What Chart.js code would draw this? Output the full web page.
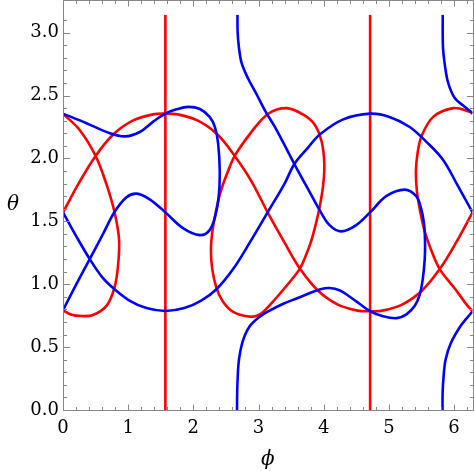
<!DOCTYPE html>
<html><head><meta charset="utf-8">
<script src="https://cdn.jsdelivr.net/npm/chart.js@4/dist/chart.umd.min.js"></script>
<style>html,body{margin:0;padding:0;background:#fff;}#wrap{width:474px;height:471px;position:relative;}</style>
</head><body><div id="wrap"><canvas id="c" width="474" height="471"></canvas></div>
<script>
const PHI_MAX = 2 * Math.PI;
const THETA_MAX = Math.PI;
const xTickValues = [0, 1, 2, 3, 4, 5, 6];
const yTickValues = [0, 0.5, 1, 1.5, 2, 2.5, 3];
const xTitle = 'ϕ';
const yTitle = 'θ';

// ---- red curves (φ, θ) ----
const redVertical1 = [[1.5708, 0], [1.5708, 3.1416]];
const redVertical2 = [[4.7124, 0], [4.7124, 3.1416]];
const redWave = [[0,1.571],[0.256,1.815],[0.50,2.02],[0.77,2.19],[1.07,2.30],[1.38,2.35],[1.571,2.356],[1.76,2.35],[2.07,2.30],[2.37,2.19],[2.635,2.02],[2.89,1.82],[3.14,1.571],[3.40,1.33],[3.64,1.12],[3.91,0.95],[4.21,0.84],[4.52,0.79],[4.712,0.785],[4.90,0.79],[5.21,0.84],[5.51,0.95],[5.78,1.12],[6.03,1.33],[6.283,1.571]];
const redLoopMid = [[2.51,1.87],[2.635,2.02],[2.89,2.21],[3.15,2.355],[3.43,2.40],[3.68,2.35],[3.86,2.27],[3.97,2.13],[4.01,1.95],[3.99,1.78],[3.94,1.62],[3.88,1.48],[3.80,1.33],[3.72,1.22],[3.63,1.12],[3.45,1.00],[3.20,0.85],[3.02,0.76],[2.865,0.742],[2.61,0.78],[2.455,0.86],[2.355,0.97],[2.29,1.12],[2.27,1.27],[2.29,1.41],[2.34,1.56],[2.41,1.72],[2.51,1.87],[2.635,2.02],[2.89,2.21]];
const redLoopLeft = [[0,2.355],[0.256,2.226],[0.50,2.02],[0.67,1.79],[0.79,1.574],[0.86,1.357],[0.845,1.15],[0.79,0.973],[0.67,0.83],[0.46,0.755],[0.28,0.747],[0.12,0.76],[0,0.793]];
const redLoopRight = [[6.283,0.785],[6.19,0.84],[6.02,0.96],[5.78,1.12],[5.65,1.27],[5.55,1.42],[5.48,1.58],[5.43,1.74],[5.415,1.90],[5.44,2.04],[5.50,2.175],[5.68,2.33],[5.99,2.40],[6.24,2.37],[6.283,2.356]];

// ---- blue curves ----
const blueWave = [[0,1.571],[0.205,1.38],[0.41,1.20],[0.61,1.05],[0.79,0.96],[1.02,0.87],[1.28,0.81],[1.571,0.787],[1.86,0.81],[2.12,0.87],[2.355,0.96],[2.61,1.12],[2.865,1.33],[3.14,1.571],[3.40,1.80],[3.55,1.955],[3.75,2.08],[3.94,2.19],[4.30,2.31],[4.712,2.356],[5.01,2.33],[5.32,2.25],[5.58,2.13],[5.83,1.99],[6.04,1.80],[6.283,1.571]];
const blueLeftBottom = [[5.823,0],[5.825,0.14],[5.84,0.27],[5.87,0.40],[5.95,0.53],[6.09,0.66],[6.22,0.745],[6.283,0.785]];
const blueLeftMain = [[0,0.793],[0.205,1.0],[0.41,1.20],[0.61,1.395],[0.79,1.574],[0.97,1.69],[1.13,1.72],[1.33,1.675],[1.571,1.571],[1.84,1.446],[2.10,1.39],[2.25,1.43],[2.34,1.55],[2.39,1.70],[2.405,1.90],[2.38,2.12],[2.33,2.25],[2.25,2.33],[2.10,2.393],[1.92,2.41],[1.74,2.39],[1.571,2.356],[1.38,2.29],[1.18,2.21],[0.95,2.175],[0.72,2.20],[0.36,2.28],[0,2.356]];
const blueLeftTop = [[6.283,2.36],[6.14,2.42],[6.01,2.48],[5.91,2.60],[5.86,2.74],[5.83,2.89],[5.826,3.1416]];
const blueMid = [[2.677,3.1416],[2.68,3.0],[2.70,2.88],[2.74,2.76],[2.84,2.635],[2.97,2.51],[3.10,2.38],[3.24,2.26],[3.38,2.125],[3.55,1.955],[3.735,1.78],[3.94,1.587],[4.09,1.47],[4.27,1.42],[4.50,1.47],[4.712,1.571],[4.96,1.70],[5.245,1.752],[5.42,1.70],[5.49,1.61],[5.54,1.48],[5.555,1.33],[5.55,1.20],[5.52,1.04],[5.475,0.92],[5.40,0.83],[5.27,0.76],[5.12,0.73],[4.91,0.745],[4.712,0.785],[4.55,0.845],[4.40,0.90],[4.25,0.95],[4.09,0.97],[3.95,0.96],[3.79,0.93],[3.60,0.89],[3.38,0.845],[3.17,0.79],[3.02,0.742],[2.865,0.666],[2.76,0.55],[2.70,0.40],[2.68,0.25],[2.672,0.12],[2.67,0]];

const BLUE = '#0000ff';
const RED = '#ff0000';
const FRAME = '#888888';

function ds(points, color) {
  return {
    data: points.map(p => ({x: p[0], y: p[1]})),
    showLine: true, borderColor: color, backgroundColor: color,
    borderWidth: 2.6, pointRadius: 0, pointHoverRadius: 0, tension: 0.35, fill: false
  };
}

const framePlugin = {
  id: 'frame',
  afterDatasetsDraw(chart) {
    const {ctx, chartArea: a, scales: {x, y}} = chart;
    ctx.save();
    ctx.strokeStyle = FRAME;
    ctx.lineWidth = 1;
    ctx.beginPath();
    const L = Math.round(a.left) + 0.5, R = 473.5, T = 0.5, B = Math.round(a.bottom) + 0.5;
    ctx.moveTo(L, T); ctx.lineTo(R, T); ctx.lineTo(R, B); ctx.lineTo(L, B); ctx.closePath();
    for (let i = 0; i * 0.2 <= x.max + 1e-9; i++) {
      const px = Math.round(x.getPixelForValue(i * 0.2)) + 0.5;
      const len = (i % 5 === 0) ? 6 : 3.5;
      ctx.moveTo(px, B); ctx.lineTo(px, B - len);
      ctx.moveTo(px, T); ctx.lineTo(px, T + len);
    }
    for (let j = 0; j * 0.1 <= y.max + 1e-9; j++) {
      const py = Math.round(y.getPixelForValue(j * 0.1)) + 0.5;
      const len = (j % 5 === 0) ? 6.5 : 3.5;
      ctx.moveTo(L, py); ctx.lineTo(L + len, py);
      ctx.moveTo(R, py); ctx.lineTo(R - len, py);
    }
    ctx.stroke();
    // upright y-axis title
    ctx.fillStyle = '#000';
    ctx.font = 'italic 20px "DejaVu Serif"';
    ctx.textAlign = 'center';
    ctx.textBaseline = 'middle';
    ctx.fillText(yTitle, 13, (a.top + a.bottom) / 2 - 8);
    ctx.restore();
  }
};

Chart.defaults.font.family = '"DejaVu Serif"';
new Chart(document.getElementById('c'), {
  type: 'scatter',
  data: {
    datasets: [
      ds(blueWave, BLUE), ds(blueLeftBottom, BLUE), ds(blueLeftMain, BLUE), ds(blueLeftTop, BLUE), ds(blueMid, BLUE),
      ds(redWave, RED), ds(redLoopMid, RED), ds(redLoopLeft, RED), ds(redLoopRight, RED),
      ds(redVertical1, RED), ds(redVertical2, RED)
    ]
  },
  options: {
    responsive: false, animation: false, devicePixelRatio: 1,
    layout: {padding: {top: 1, right: 1.5, left: 0, bottom: 0}},
    plugins: {legend: {display: false}, tooltip: {enabled: false}},
    events: [],
    scales: {
      x: {
        type: 'linear', min: 0, max: PHI_MAX,
        afterBuildTicks(s) { s.ticks = xTickValues.map(v => ({value: v})); },
        afterFit(s) { s.height = 61; },
        ticks: {color: '#000', font: {size: 18}, padding: 8, callback: v => String(v), maxRotation: 0, autoSkip: false},
        grid: {display: false, drawTicks: false},
        border: {display: false},
        title: {display: true, text: xTitle, color: '#000', font: {size: 20, style: 'italic', lineHeight: 1}, padding: {top: 0, bottom: 1}}
      },
      y: {
        type: 'linear', min: 0, max: THETA_MAX,
        afterBuildTicks(s) { s.ticks = yTickValues.map(v => ({value: v})); },
        afterFit(s) { s.width = 63; },
        ticks: {color: '#000', font: {size: 18}, padding: 4, callback: v => Number(v).toFixed(1), autoSkip: false},
        grid: {display: false, drawTicks: false},
        border: {display: false}
      }
    }
  },
  plugins: [framePlugin]
});
</script>
</body></html>
